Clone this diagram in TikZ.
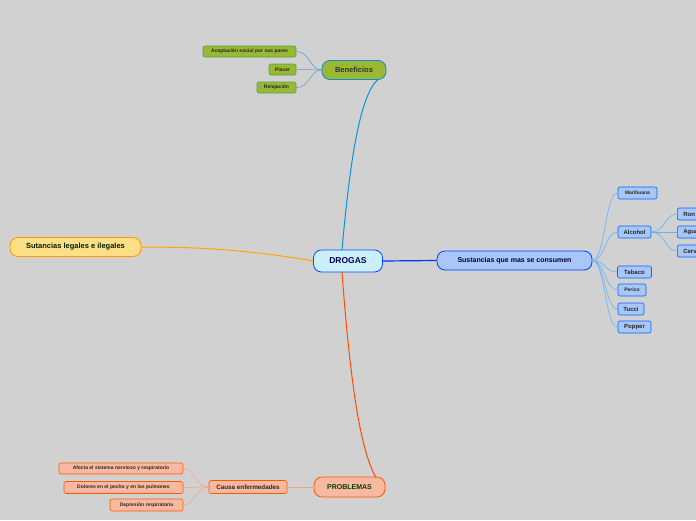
\documentclass[tikz,border=0pt]{standalone}
\usepackage{fontspec}
\setmainfont{Liberation Sans}
\begin{document}
\begin{tikzpicture}[x=1pt,y=-1pt,
 base/.style={draw,rounded corners=2pt,font=\bfseries,inner sep=0pt,line width=0.6pt},
 grn/.style={base,fill=gr,draw=green!50!black!70,font=\bfseries\fontsize{5}{6}\selectfont,text=black!85},
 blu/.style={base,fill=bl,draw=blue!60!cyan,font=\bfseries\fontsize{6}{7}\selectfont,text=black!85},
 red/.style={base,fill=rd,draw=orange!70!red,font=\bfseries\fontsize{5}{6}\selectfont,text=black!85},
 main/.style={base,rounded corners=8pt,line width=0.8pt,font=\bfseries\fontsize{7.5}{8}\selectfont}]
\definecolor{gr}{HTML}{9AB833}
\definecolor{bl}{HTML}{A8C6F8}
\definecolor{rd}{HTML}{F9B8A0}
\useasboundingbox (0,0) rectangle (696,520);
\fill[black!18] (0,0) rectangle (696,520);
\clip (0,0) rectangle (696,520);
\node[main,fill=cyan!20,draw=blue!70!cyan,text=blue!30!black,minimum width=69pt,minimum height=22pt,font=\bfseries\fontsize{8.5}{9}\selectfont] (d) at (348,261) {DROGAS};
\node[main,fill=gr,draw=cyan!70!blue,text=black!80,minimum width=64pt,minimum height=19pt] (b) at (354,70) {Beneficios};
\node[grn,minimum width=93pt,minimum height=11pt] (b1) at (249.5,51.5) {Aceptación social por sus pares};
\node[grn,minimum width=27pt,minimum height=11pt] (b2) at (282.5,69.5) {Placer};
\node[grn,minimum width=39pt,minimum height=11pt] (b3) at (276.5,87.5) {Relajación};
\node[main,fill=yellow!50!orange!45,draw=orange!80!yellow,text=black!70!green!40!black,minimum width=131pt,minimum height=19pt] (s) at (75.5,247) {Sutancias legales e ilegales};
\node[main,fill=bl,draw=blue!75!cyan,text=blue!20!black,minimum width=155pt,minimum height=19pt,font=\bfseries\fontsize{7}{8}\selectfont] (c) at (514.5,260.5) {Sustancias que mas se consumen};
\node[blu,minimum width=39pt,minimum height=12pt,font=\bfseries\fontsize{5}{6}\selectfont] (c1) at (637.5,193) {Marihuana};
\node[blu,minimum width=33pt,minimum height=12pt] (c2) at (634.5,232) {Alcohol};
\node[blu,minimum width=34pt,minimum height=12pt] (c3) at (634.5,272) {Tabaco};
\node[blu,minimum width=28pt,minimum height=12pt,font=\bfseries\fontsize{5}{6}\selectfont] (c4) at (632,290) {Perico};
\node[blu,minimum width=26pt,minimum height=12pt] (c5) at (631,309) {Tucci};
\node[blu,minimum width=33pt,minimum height=12pt] (c6) at (634.5,327) {Popper};
\node[blu,anchor=west,minimum width=30pt,minimum height=12pt,text width=24pt,align=left] (a1) at (677,214) {\hspace*{3pt}Ron};
\node[blu,anchor=west,minimum width=30pt,minimum height=12pt,text width=24pt,align=left] (a2) at (677,232) {\hspace*{3pt}Agua};
\node[blu,anchor=west,minimum width=30pt,minimum height=12pt,text width=24pt,align=left] (a3) at (677,251) {\hspace*{3pt}Cerveza};
\node[main,fill=rd,draw=orange!70!red,text=green!25!black,minimum width=71pt,minimum height=20pt,font=\bfseries\fontsize{7}{8}\selectfont] (p) at (349.5,487) {PROBLEMAS};
\node[red,minimum width=78pt,minimum height=13pt,font=\bfseries\fontsize{6.3}{7}\selectfont] (e) at (248,487) {Causa enfermedades};
\node[red,minimum width=124pt,minimum height=11pt] (e1) at (121,468.5) {Afecta el sistema nervioso y respiratorio};
\node[red,minimum width=119pt,minimum height=12pt] (e2) at (123.5,487.5) {Dolores en el pecho y en los pulmones};
\node[red,minimum width=73pt,minimum height=12pt] (e3) at (146.5,505) {Depresión respiratoria};
% connectors
\draw[cyan!80!blue,line width=1pt] (342,250) .. controls (350,160) and (360,95) .. (378,79.5);
\draw[orange!70!yellow,line width=1pt] (d.west) .. controls (250,250) and (200,247) .. (s.east);
\draw[blue!80!cyan,line width=1.2pt] (d.east) -- (c.west);
\draw[orange!60!red,line width=1pt] (342,272) .. controls (350,380) and (360,450) .. (376,477.5);
\begin{scope}[cyan!60!blue!70,line width=0.5pt]
\foreach \n in {b1,b2,b3} \draw (b.west) .. controls (310,70) and (310,0|-\n.east) .. (\n.east);
\end{scope}
\begin{scope}[blue!50!cyan!60,line width=0.6pt]
\foreach \n in {c1,c2,c3,c4,c5,c6} \draw (c.east) .. controls (605,260.5) and (605,0|-\n.west) .. (\n.west);
\foreach \n in {a1,a2,a3} \draw (c2.east) .. controls (665,232) and (665,0|-\n.west) .. (\n.west);
\end{scope}
\begin{scope}[orange!50!red!50,line width=0.5pt]
\draw (p.west) -- (e.east);
\foreach \n in {e1,e2,e3} \draw (e.west) .. controls (195,487) and (195,0|-\n.east) .. (\n.east);
\end{scope}
\end{tikzpicture}
\end{document}
